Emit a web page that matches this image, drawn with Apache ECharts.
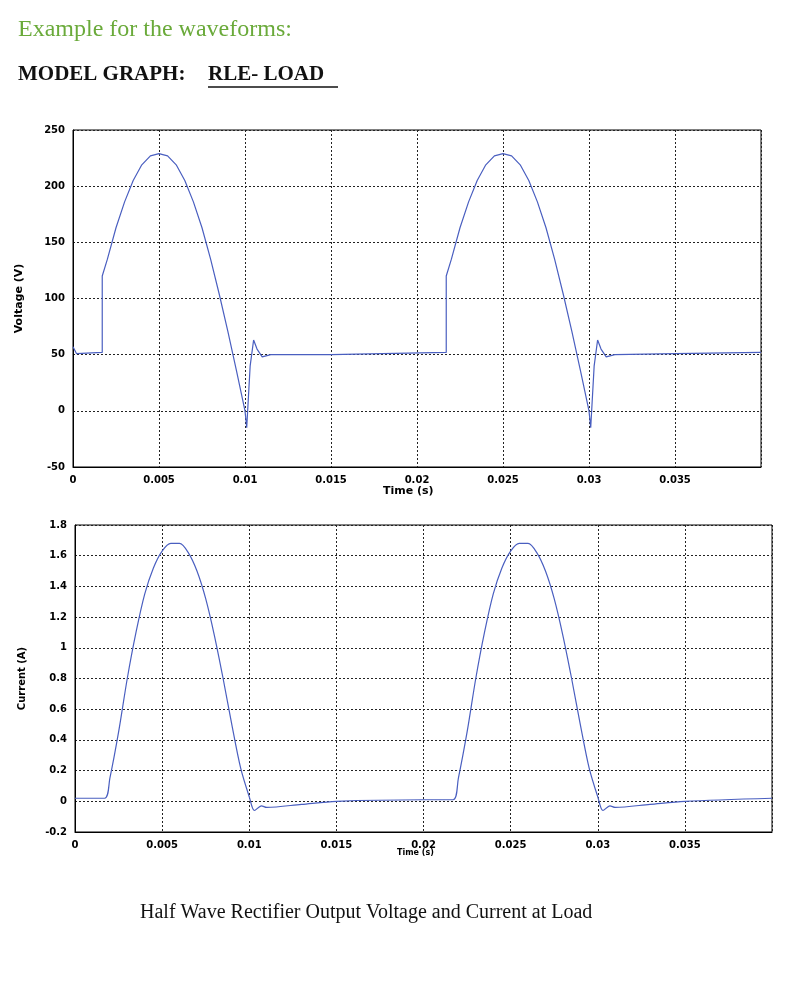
<!DOCTYPE html>
<html><head><meta charset="utf-8">
<script src="https://cdn.jsdelivr.net/npm/echarts@6/dist/echarts.min.js"></script>
<style>html,body{margin:0;padding:0;background:#fff}#c{width:804px;height:992px}</style>
</head><body><div id="c"></div>
<script>
// Voltage one period [t, V]
const vTime = [0,0.0002,0.0017,0.0017,0.002,0.0025,0.003,0.0035,0.004,0.0045,0.005,0.0055,0.006,0.0065,0.007,0.0075,0.008,0.0085,0.009,0.0095,0.01,0.0101,0.0103,0.0105,0.0107,0.011,0.0115,0.015,0.0217];
const vVal  = [57,51,52,120,135,163,186,205,219,227,229,227,219,205,186,163,135,104,71,36,0,-15,40,63,55,48,50,50,52];
const vTime2 = [0.0217,0.022,0.0225,0.023,0.0235,0.024,0.0245,0.025,0.0255,0.026,0.0265,0.027,0.0275,0.028,0.0285,0.029,0.0295,0.03,0.0301,0.0303,0.0305,0.0307,0.031,0.0315,0.035,0.04];
const vVal2  = [120,135,163,186,205,219,227,229,227,219,205,186,163,135,104,71,36,0,-15,40,63,55,48,50,51,52];
// Current [t, A]
const iTime = [0,0.0017,0.002,0.0025,0.003,0.0035,0.004,0.0045,0.005,0.0055,0.006,0.0065,0.007,0.0075,0.008,0.0085,0.009,0.0095,0.01,0.0103,0.0107,0.011,0.013,0.015,0.02,0.0217,0.022,0.0225,0.023,0.0235,0.024,0.0245,0.025,0.0255,0.026,0.0265,0.027,0.0275,0.028,0.0285,0.029,0.0295,0.03,0.0303,0.0307,0.031,0.033,0.035,0.04];
const iVal  = [0.02,0.02,0.15,0.45,0.8,1.1,1.35,1.52,1.63,1.68,1.68,1.62,1.5,1.32,1.08,0.8,0.5,0.22,0.03,-0.06,-0.03,-0.04,-0.02,0,0.01,0.01,0.15,0.45,0.8,1.1,1.35,1.52,1.63,1.68,1.68,1.62,1.5,1.32,1.08,0.8,0.5,0.22,0.03,-0.06,-0.03,-0.04,-0.02,0,0.02];
const xTicks = [0,0.005,0.01,0.015,0.02,0.025,0.03,0.035];

const vData = vTime.map((t,i)=>[t,vVal[i]]).concat(vTime2.map((t,i)=>[t,vVal2[i]]));
const iData = iTime.map((t,i)=>[t,iVal[i]]);
const lbl = {fontFamily:'DejaVu Sans',fontSize:10,fontWeight:'bold',color:'#000'};
const split = {show:true,lineStyle:{type:[2,2],color:'#222',width:1}};
function xAx(gi){return {type:'value',gridIndex:gi,min:0,max:0.04,interval:0.005,
  axisLine:{onZero:false,lineStyle:{color:'#000'}},axisTick:{show:false},splitLine:split,
  axisLabel:Object.assign({},lbl,{formatter:v=>xTicks.includes(+v.toFixed(4))?String(+v.toFixed(4)):''})};}
const chart = echarts.init(document.getElementById('c'));
chart.setOption({
  animation:false,
  graphic:[
    {type:'text',left:18,top:18,style:{text:'Example for the waveforms:',font:'24px "Liberation Serif"',fill:'#6aaa3a'}},
    {type:'text',left:18,top:64,style:{text:'MODEL GRAPH:',font:'bold 21px "Liberation Serif"',fill:'#111'}},
    {type:'text',left:208,top:64,style:{text:'RLE- LOAD',font:'bold 21px "Liberation Serif"',fill:'#111'}},
    {type:'line',shape:{x1:208,y1:87,x2:338,y2:87},style:{stroke:'#111',lineWidth:1.5}},
    {type:'text',left:140,top:903,style:{text:'Half Wave Rectifier Output Voltage and Current at Load',font:'20px "Liberation Serif"',fill:'#111'}},
    {type:'text',left:383,top:486,style:{text:'Time (s)',font:'bold 11px "DejaVu Sans"',fill:'#000'}},
    {type:'text',left:397,top:849,style:{text:'Time (s)',font:'bold 8px "DejaVu Sans"',fill:'#000'}}
  ],
  grid:[
    {left:73,top:130,width:688,height:337,show:true,borderColor:'#000',borderWidth:1},
    {left:75,top:525,width:697,height:307,show:true,borderColor:'#000',borderWidth:1}
  ],
  xAxis:[xAx(0),xAx(1)],
  yAxis:[
    {type:'value',gridIndex:0,min:-50,max:250,interval:50,name:'Voltage (V)',nameLocation:'middle',nameGap:48,
     nameTextStyle:{fontFamily:'DejaVu Sans',fontSize:11,fontWeight:'bold',color:'#000'},
     axisLine:{show:true,lineStyle:{color:'#000'}},axisTick:{show:false},splitLine:split,axisLabel:lbl},
    {type:'value',gridIndex:1,min:-0.2,max:1.8,interval:0.2,name:'Current (A)',nameLocation:'middle',nameGap:48,
     nameTextStyle:{fontFamily:'DejaVu Sans',fontSize:10,fontWeight:'bold',color:'#000'},
     axisLine:{show:true,lineStyle:{color:'#000'}},axisTick:{show:false},splitLine:split,
     axisLabel:Object.assign({},lbl,{formatter:v=>String(+v.toFixed(1))})}
  ],
  series:[
    {type:'line',xAxisIndex:0,yAxisIndex:0,data:vData,showSymbol:false,lineStyle:{color:'#4a5fc0',width:1.2}},
    {type:'line',xAxisIndex:1,yAxisIndex:1,data:iData,showSymbol:false,smooth:0.3,lineStyle:{color:'#4a5fc0',width:1.2}}
  ]
});
</script></body></html>
